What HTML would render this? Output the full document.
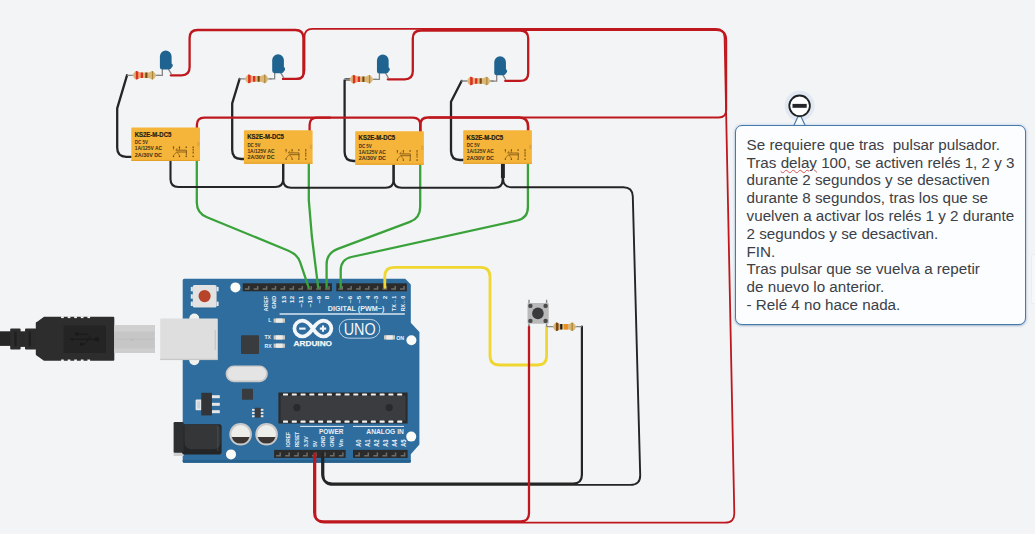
<!DOCTYPE html>
<html><head><meta charset="utf-8"><title>Circuit</title>
<style>
html,body{margin:0;padding:0;background:#f3f4f6;}
body{width:1035px;height:534px;overflow:hidden;position:relative;font-family:"Liberation Sans",sans-serif;}
svg{position:absolute;left:0;top:0;display:block}
svg text{font-family:"Liberation Sans",sans-serif;}
#note{position:absolute;left:735px;top:125px;width:289px;height:198.4px;background:#fcfdfe;border:1.7px solid #487aa9;border-radius:7px;box-shadow:0 0 3px rgba(120,170,220,.55),0 1px 2px rgba(60,90,130,.35);box-sizing:content-box}
#note p{margin:0;position:absolute;left:10.6px;top:9.7px;font-size:15.2px;line-height:17.82px;color:#3b4046;white-space:pre;letter-spacing:0}
#note u{text-decoration:underline wavy #d9534f;text-decoration-thickness:1px;text-underline-offset:1px}
</style></head><body>
<svg width="1035" height="534" viewBox="0 0 1035 534">
<rect width="1035" height="534" fill="#f3f4f6"/>

<g id="arduino">
<path d="M184.2,278.8 H405.2 L410.8,284.5 V322.8 L419.4,332 V444.4 L410.8,454.2 V461.2 Q410.8,462.7 409.3,462.7 H184.2 Q182.7,462.7 182.7,461.2 V280.3 Q182.7,278.8 184.2,278.8 Z" fill="#2e6d9e"/>
<path d="M182.7,460 H410.8 V461.2 Q410.8,462.7 409.3,462.7 H184.2 Q182.7,462.7 182.7,461.2 Z" fill="#26608d"/>
<circle cx="235.4" cy="287.4" r="5" fill="#fbfbf8"/>
<circle cx="411.4" cy="340.3" r="5" fill="#fbfbf8"/>
<circle cx="411.2" cy="436.6" r="5" fill="#fbfbf8"/>
<circle cx="231" cy="454.4" r="5" fill="#fbfbf8"/>
<rect x="242.7" y="283.3" width="89.20" height="8" fill="#2b2b2b"/>
<path d="M244.76,289.1 H248.76 V285.90000000000003" stroke="#6f6d68" stroke-width="1.5" fill="none"/>
<path d="M253.68,289.1 H257.68 V285.90000000000003" stroke="#6f6d68" stroke-width="1.5" fill="none"/>
<path d="M262.60,289.1 H266.60 V285.90000000000003" stroke="#6f6d68" stroke-width="1.5" fill="none"/>
<path d="M271.52,289.1 H275.52 V285.90000000000003" stroke="#6f6d68" stroke-width="1.5" fill="none"/>
<path d="M280.44,289.1 H284.44 V285.90000000000003" stroke="#6f6d68" stroke-width="1.5" fill="none"/>
<path d="M289.36,289.1 H293.36 V285.90000000000003" stroke="#6f6d68" stroke-width="1.5" fill="none"/>
<path d="M298.28,289.1 H302.28 V285.90000000000003" stroke="#6f6d68" stroke-width="1.5" fill="none"/>
<path d="M307.20,289.1 H311.20 V285.90000000000003" stroke="#6f6d68" stroke-width="1.5" fill="none"/>
<path d="M316.12,289.1 H320.12 V285.90000000000003" stroke="#6f6d68" stroke-width="1.5" fill="none"/>
<path d="M325.04,289.1 H329.04 V285.90000000000003" stroke="#6f6d68" stroke-width="1.5" fill="none"/>
<rect x="336.3" y="283.3" width="70.56" height="8" fill="#2b2b2b"/>
<path d="M338.31,289.1 H342.31 V285.90000000000003" stroke="#6f6d68" stroke-width="1.5" fill="none"/>
<path d="M347.13,289.1 H351.13 V285.90000000000003" stroke="#6f6d68" stroke-width="1.5" fill="none"/>
<path d="M355.95,289.1 H359.95 V285.90000000000003" stroke="#6f6d68" stroke-width="1.5" fill="none"/>
<path d="M364.77,289.1 H368.77 V285.90000000000003" stroke="#6f6d68" stroke-width="1.5" fill="none"/>
<path d="M373.59,289.1 H377.59 V285.90000000000003" stroke="#6f6d68" stroke-width="1.5" fill="none"/>
<path d="M382.41,289.1 H386.41 V285.90000000000003" stroke="#6f6d68" stroke-width="1.5" fill="none"/>
<path d="M391.23,289.1 H395.23 V285.90000000000003" stroke="#6f6d68" stroke-width="1.5" fill="none"/>
<path d="M400.05,289.1 H404.05 V285.90000000000003" stroke="#6f6d68" stroke-width="1.5" fill="none"/>
<rect x="274.1" y="449.9" width="71.60" height="8" fill="#2b2b2b"/>
<path d="M276.18,455.7 H280.18 V452.5" stroke="#6f6d68" stroke-width="1.5" fill="none"/>
<path d="M285.13,455.7 H289.13 V452.5" stroke="#6f6d68" stroke-width="1.5" fill="none"/>
<path d="M294.08,455.7 H298.08 V452.5" stroke="#6f6d68" stroke-width="1.5" fill="none"/>
<path d="M303.03,455.7 H307.03 V452.5" stroke="#6f6d68" stroke-width="1.5" fill="none"/>
<path d="M311.98,455.7 H315.98 V452.5" stroke="#6f6d68" stroke-width="1.5" fill="none"/>
<path d="M320.93,455.7 H324.93 V452.5" stroke="#6f6d68" stroke-width="1.5" fill="none"/>
<path d="M329.88,455.7 H333.88 V452.5" stroke="#6f6d68" stroke-width="1.5" fill="none"/>
<path d="M338.83,455.7 H342.83 V452.5" stroke="#6f6d68" stroke-width="1.5" fill="none"/>
<rect x="353.0" y="449.9" width="54.60" height="8" fill="#2b2b2b"/>
<path d="M355.15,455.7 H359.15 V452.5" stroke="#6f6d68" stroke-width="1.5" fill="none"/>
<path d="M364.25,455.7 H368.25 V452.5" stroke="#6f6d68" stroke-width="1.5" fill="none"/>
<path d="M373.35,455.7 H377.35 V452.5" stroke="#6f6d68" stroke-width="1.5" fill="none"/>
<path d="M382.45,455.7 H386.45 V452.5" stroke="#6f6d68" stroke-width="1.5" fill="none"/>
<path d="M391.55,455.7 H395.55 V452.5" stroke="#6f6d68" stroke-width="1.5" fill="none"/>
<path d="M400.65,455.7 H404.65 V452.5" stroke="#6f6d68" stroke-width="1.5" fill="none"/>
<rect x="190.8" y="286.9" width="2.2" height="4.4" fill="#e8e8e8"/><rect x="190.8" y="294.3" width="2.2" height="4.4" fill="#e8e8e8"/><rect x="190.8" y="301.6" width="2.2" height="4.4" fill="#e8e8e8"/>
<rect x="216.4" y="286.9" width="2.2" height="4.4" fill="#e8e8e8"/><rect x="216.4" y="301.6" width="2.2" height="4.4" fill="#e8e8e8"/>
<rect x="192.8" y="285.7" width="23.8" height="22.8" rx="1.6" fill="#1f5f8c" opacity=".6"/>
<rect x="192.8" y="285.1" width="23.8" height="22.4" rx="1.6" fill="#e2e2e2"/>
<circle cx="204.6" cy="296.1" r="6.1" fill="#b7432b"/>
<text transform="translate(267.90000000000003,295.8) rotate(-90)" font-size="5.9" font-weight="bold" text-anchor="end" fill="#eef3f8" textLength="15.6" lengthAdjust="spacingAndGlyphs">AREF</text>
<text transform="translate(276.40000000000003,295.8) rotate(-90)" font-size="5.9" font-weight="bold" text-anchor="end" fill="#eef3f8" textLength="13" lengthAdjust="spacingAndGlyphs">GND</text>
<text transform="translate(285.6,295.8) rotate(-90)" font-size="5.9" font-weight="bold" text-anchor="end" fill="#eef3f8" textLength="7.4" lengthAdjust="spacingAndGlyphs">13</text>
<text transform="translate(294.3,295.8) rotate(-90)" font-size="5.9" font-weight="bold" text-anchor="end" fill="#eef3f8" textLength="7.4" lengthAdjust="spacingAndGlyphs">12</text>
<text transform="translate(303.0,295.8) rotate(-90)" font-size="5.9" font-weight="bold" text-anchor="end" fill="#eef3f8" textLength="11.8" lengthAdjust="spacingAndGlyphs">~11</text>
<text transform="translate(311.90000000000003,295.8) rotate(-90)" font-size="5.9" font-weight="bold" text-anchor="end" fill="#eef3f8" textLength="11.8" lengthAdjust="spacingAndGlyphs">~10</text>
<text transform="translate(320.6,295.8) rotate(-90)" font-size="5.9" font-weight="bold" text-anchor="end" fill="#eef3f8" textLength="7.6" lengthAdjust="spacingAndGlyphs">~9</text>
<text transform="translate(329.40000000000003,295.8) rotate(-90)" font-size="5.9" font-weight="bold" text-anchor="end" fill="#eef3f8" textLength="3.5" lengthAdjust="spacingAndGlyphs">8</text>
<text transform="translate(343.0,295.8) rotate(-90)" font-size="5.9" font-weight="bold" text-anchor="end" fill="#eef3f8" textLength="3.5" lengthAdjust="spacingAndGlyphs">7</text>
<text transform="translate(351.8,295.8) rotate(-90)" font-size="5.9" font-weight="bold" text-anchor="end" fill="#eef3f8" textLength="7.6" lengthAdjust="spacingAndGlyphs">~6</text>
<text transform="translate(360.6,295.8) rotate(-90)" font-size="5.9" font-weight="bold" text-anchor="end" fill="#eef3f8" textLength="7.6" lengthAdjust="spacingAndGlyphs">~5</text>
<text transform="translate(369.5,295.8) rotate(-90)" font-size="5.9" font-weight="bold" text-anchor="end" fill="#eef3f8" textLength="3.5" lengthAdjust="spacingAndGlyphs">4</text>
<text transform="translate(378.3,295.8) rotate(-90)" font-size="5.9" font-weight="bold" text-anchor="end" fill="#eef3f8" textLength="7.6" lengthAdjust="spacingAndGlyphs">~3</text>
<text transform="translate(387.1,295.8) rotate(-90)" font-size="5.9" font-weight="bold" text-anchor="end" fill="#eef3f8" textLength="3.5" lengthAdjust="spacingAndGlyphs">2</text>
<text transform="translate(395.70000000000005,295.8) rotate(-90)" font-size="5.2" font-weight="bold" text-anchor="end" fill="#eef3f8" textLength="15.4" lengthAdjust="spacingAndGlyphs">TX→1</text>
<text transform="translate(404.5,295.8) rotate(-90)" font-size="5.2" font-weight="bold" text-anchor="end" fill="#eef3f8" textLength="15.4" lengthAdjust="spacingAndGlyphs">RX←0</text>
<text x="327.8" y="311.3" font-size="6.9" font-weight="bold" fill="#e9f0f6" textLength="56.6" lengthAdjust="spacingAndGlyphs">DIGITAL (PWM~)</text>
<path d="M279.6,313.9 H404.8" stroke="#d9e6f1" stroke-width="1.5"/>
<text x="268.3" y="322.40000000000003" font-size="5.2" font-weight="bold" fill="#e9f0f6">L</text>
<rect x="273.6" y="318.5" width="11.4" height="4.2" fill="#c9c9c4"/><rect x="276" y="318.5" width="6.6" height="4.2" fill="#ecece8"/>
<text x="264.4" y="339.2" font-size="5.2" font-weight="bold" fill="#e9f0f6">TX</text>
<rect x="273.6" y="335.29999999999995" width="11.4" height="4.2" fill="#c9c9c4"/><rect x="276" y="335.29999999999995" width="6.6" height="4.2" fill="#ecece8"/>
<text x="264.4" y="347.5" font-size="5.2" font-weight="bold" fill="#e9f0f6">RX</text>
<rect x="273.6" y="343.59999999999997" width="11.4" height="4.2" fill="#c9c9c4"/><rect x="276" y="343.59999999999997" width="6.6" height="4.2" fill="#ecece8"/>
<rect x="384" y="335.3" width="11" height="4.2" fill="#c9c9c4"/><rect x="386.3" y="335.3" width="6.4" height="4.2" fill="#ecece8"/>
<text x="396.2" y="339.5" font-size="5.6" font-weight="bold" fill="#eef3f8" textLength="8" lengthAdjust="spacingAndGlyphs">ON</text>
<g fill="none" stroke="#f4f7fa" stroke-width="3.7"><path d="M312.9,328.6 C309.5,323.5 306.5,320.7 302.3,320.7 A7.9,7.9 0 0 0 302.3,336.5 C306.5,336.5 309.5,333.7 312.9,328.6 C316.3,323.5 319.3,320.7 323.5,320.7 A7.9,7.9 0 0 1 323.5,336.5 C319.3,336.5 316.3,333.7 312.9,328.6 Z"/></g>
<path d="M299.2,328.6 H305.6" stroke="#f4f7fa" stroke-width="2.1"/><path d="M319.8,328.6 H326.2 M323,325.4 V331.8" stroke="#f4f7fa" stroke-width="2.1"/>
<text x="293.6" y="346.4" font-size="7.8" font-weight="bold" fill="#f4f7fa" stroke="#f4f7fa" stroke-width="0.25" textLength="38.4" lengthAdjust="spacingAndGlyphs">ARDUINO</text>
<rect x="339.2" y="319.4" width="40.6" height="18.8" rx="9.4" fill="none" stroke="#dfe9f2" stroke-width="0.8"/>
<text x="343.7" y="334.7" font-size="16" fill="#f4f7fa" textLength="32" lengthAdjust="spacingAndGlyphs">UNO</text>
<rect x="241" y="335.2" width="18" height="18.8" rx="0.8" fill="#3a3b3e"/>
<rect x="242" y="388.8" width="11" height="11" rx="0.6" fill="#3a3b3e"/>
<rect x="254.6" y="407.8" width="6.2" height="9.8" fill="#3a3b3e"/>
<rect x="252" y="408.9" width="2.6" height="1.9" fill="#e6e6e6"/><rect x="260.8" y="408.9" width="2.6" height="1.9" fill="#e6e6e6"/>
<rect x="252" y="412.1" width="2.6" height="1.9" fill="#e6e6e6"/><rect x="260.8" y="412.1" width="2.6" height="1.9" fill="#e6e6e6"/>
<rect x="252" y="415.3" width="2.6" height="1.9" fill="#e6e6e6"/><rect x="260.8" y="415.3" width="2.6" height="1.9" fill="#e6e6e6"/>
<rect x="225.6" y="365.6" width="42.2" height="16.6" rx="8.3" fill="#c8c8c8"/><rect x="227.3" y="366.8" width="38.8" height="13.6" rx="6.8" fill="#e4e4e4"/>
<rect x="195.6" y="399.6" width="6" height="10.6" rx="0.8" fill="#e6e6e6"/><rect x="197.2" y="401.4" width="3" height="7" fill="#c4d3e0"/>
<rect x="211.6" y="395.2" width="8.2" height="3" fill="#e6e6e6"/>
<rect x="211.6" y="402.8" width="8.2" height="3" fill="#e6e6e6"/>
<rect x="211.6" y="410.2" width="8.2" height="3" fill="#e6e6e6"/>
<rect x="201.3" y="392.8" width="10.6" height="22.6" fill="#333437"/>
<circle cx="240.6" cy="434.3" r="11.3" fill="#c9c9c9"/><circle cx="240.6" cy="434.3" r="9.3" fill="#ededea"/>
<path d="M231.70,437 A9.3,9.3 0 0 0 249.50,437 Z" fill="#3b3533"/>
<circle cx="266.6" cy="434.3" r="11.3" fill="#c9c9c9"/><circle cx="266.6" cy="434.3" r="9.3" fill="#ededea"/>
<path d="M257.70,437 A9.3,9.3 0 0 0 275.50,437 Z" fill="#3b3533"/>
<rect x="278.4" y="392.5" width="129.2" height="31" fill="#2b2b2d"/><rect x="280.6" y="395.6" width="125" height="25" fill="#3b3c3f"/>
<rect x="283.00" y="393.4" width="5" height="2.2" rx="0.6" fill="#f1f1f1"/><rect x="283.00" y="420.6" width="5" height="2.2" rx="0.6" fill="#f1f1f1"/>
<rect x="291.79" y="393.4" width="5" height="2.2" rx="0.6" fill="#f1f1f1"/><rect x="291.79" y="420.6" width="5" height="2.2" rx="0.6" fill="#f1f1f1"/>
<rect x="300.57" y="393.4" width="5" height="2.2" rx="0.6" fill="#f1f1f1"/><rect x="300.57" y="420.6" width="5" height="2.2" rx="0.6" fill="#f1f1f1"/>
<rect x="309.36" y="393.4" width="5" height="2.2" rx="0.6" fill="#f1f1f1"/><rect x="309.36" y="420.6" width="5" height="2.2" rx="0.6" fill="#f1f1f1"/>
<rect x="318.14" y="393.4" width="5" height="2.2" rx="0.6" fill="#f1f1f1"/><rect x="318.14" y="420.6" width="5" height="2.2" rx="0.6" fill="#f1f1f1"/>
<rect x="326.93" y="393.4" width="5" height="2.2" rx="0.6" fill="#f1f1f1"/><rect x="326.93" y="420.6" width="5" height="2.2" rx="0.6" fill="#f1f1f1"/>
<rect x="335.71" y="393.4" width="5" height="2.2" rx="0.6" fill="#f1f1f1"/><rect x="335.71" y="420.6" width="5" height="2.2" rx="0.6" fill="#f1f1f1"/>
<rect x="344.50" y="393.4" width="5" height="2.2" rx="0.6" fill="#f1f1f1"/><rect x="344.50" y="420.6" width="5" height="2.2" rx="0.6" fill="#f1f1f1"/>
<rect x="353.28" y="393.4" width="5" height="2.2" rx="0.6" fill="#f1f1f1"/><rect x="353.28" y="420.6" width="5" height="2.2" rx="0.6" fill="#f1f1f1"/>
<rect x="362.06" y="393.4" width="5" height="2.2" rx="0.6" fill="#f1f1f1"/><rect x="362.06" y="420.6" width="5" height="2.2" rx="0.6" fill="#f1f1f1"/>
<rect x="370.85" y="393.4" width="5" height="2.2" rx="0.6" fill="#f1f1f1"/><rect x="370.85" y="420.6" width="5" height="2.2" rx="0.6" fill="#f1f1f1"/>
<rect x="379.63" y="393.4" width="5" height="2.2" rx="0.6" fill="#f1f1f1"/><rect x="379.63" y="420.6" width="5" height="2.2" rx="0.6" fill="#f1f1f1"/>
<rect x="388.42" y="393.4" width="5" height="2.2" rx="0.6" fill="#f1f1f1"/><rect x="388.42" y="420.6" width="5" height="2.2" rx="0.6" fill="#f1f1f1"/>
<rect x="397.20" y="393.4" width="5" height="2.2" rx="0.6" fill="#f1f1f1"/><rect x="397.20" y="420.6" width="5" height="2.2" rx="0.6" fill="#f1f1f1"/>
<circle cx="296.9" cy="407.6" r="3.6" fill="#2a2a2c"/><circle cx="389.2" cy="407.6" r="3.6" fill="#2a2a2c"/>
<path d="M300.2,426.4 H343.8" stroke="#e9f0f6" stroke-width="1"/><path d="M353,426.4 H404" stroke="#e9f0f6" stroke-width="1"/>
<text x="318.9" y="433.9" font-size="7" font-weight="bold" fill="#e9f0f6" textLength="24.5" lengthAdjust="spacingAndGlyphs">POWER</text>
<text x="366.3" y="433.9" font-size="7" font-weight="bold" fill="#e9f0f6" textLength="37.6" lengthAdjust="spacingAndGlyphs">ANALOG IN</text>
<text transform="translate(290.3,447) rotate(-90)" font-size="5.5" font-weight="bold" text-anchor="start" fill="#eef3f8" textLength="15" lengthAdjust="spacingAndGlyphs">IOREF</text>
<text transform="translate(299.1,447) rotate(-90)" font-size="5.5" font-weight="bold" text-anchor="start" fill="#eef3f8" textLength="15" lengthAdjust="spacingAndGlyphs">RESET</text>
<text transform="translate(307.9,447) rotate(-90)" font-size="5.5" font-weight="bold" text-anchor="start" fill="#eef3f8" textLength="10.7" lengthAdjust="spacingAndGlyphs">3.3V</text>
<text transform="translate(316.6,447) rotate(-90)" font-size="5.5" font-weight="bold" text-anchor="start" fill="#eef3f8" textLength="6.3" lengthAdjust="spacingAndGlyphs">5V</text>
<text transform="translate(325.3,447) rotate(-90)" font-size="5.5" font-weight="bold" text-anchor="start" fill="#eef3f8" textLength="11.1" lengthAdjust="spacingAndGlyphs">GND</text>
<text transform="translate(334.2,447) rotate(-90)" font-size="5.5" font-weight="bold" text-anchor="start" fill="#eef3f8" textLength="11.1" lengthAdjust="spacingAndGlyphs">GND</text>
<text transform="translate(342.9,447) rotate(-90)" font-size="5.5" font-weight="bold" text-anchor="start" fill="#eef3f8" textLength="7.7" lengthAdjust="spacingAndGlyphs">Vin</text>
<text transform="translate(360.7,447) rotate(-90)" font-size="6.3" font-weight="bold" text-anchor="start" fill="#eef3f8" textLength="7.6" lengthAdjust="spacingAndGlyphs">A0</text>
<text transform="translate(369.7,447) rotate(-90)" font-size="6.3" font-weight="bold" text-anchor="start" fill="#eef3f8" textLength="7.6" lengthAdjust="spacingAndGlyphs">A1</text>
<text transform="translate(378.7,447) rotate(-90)" font-size="6.3" font-weight="bold" text-anchor="start" fill="#eef3f8" textLength="7.6" lengthAdjust="spacingAndGlyphs">A2</text>
<text transform="translate(387.7,447) rotate(-90)" font-size="6.3" font-weight="bold" text-anchor="start" fill="#eef3f8" textLength="7.6" lengthAdjust="spacingAndGlyphs">A3</text>
<text transform="translate(396.7,447) rotate(-90)" font-size="6.3" font-weight="bold" text-anchor="start" fill="#eef3f8" textLength="7.6" lengthAdjust="spacingAndGlyphs">A4</text>
<text transform="translate(405.7,447) rotate(-90)" font-size="6.3" font-weight="bold" text-anchor="start" fill="#eef3f8" textLength="7.6" lengthAdjust="spacingAndGlyphs">A5</text>
<circle cx="194.3" cy="318.6" r="5" fill="#f1f1ee"/><circle cx="194.3" cy="360.2" r="5" fill="#f1f1ee"/>
<rect x="160.2" y="318.4" width="57.6" height="41.6" rx="1" fill="#dedede"/><rect x="160.2" y="358.8" width="57.6" height="1.3" fill="#c8c8c8"/>
<path d="M215.2,330 V350" stroke="#bdbdbd" stroke-width="0.9"/>
<rect x="173.6" y="451.6" width="10" height="4.4" fill="#cfcfcf"/>
<rect x="182" y="424.2" width="39.6" height="30.4" rx="2.4" fill="#242527"/>
<rect x="173.6" y="422" width="10" height="30.8" rx="1.2" fill="#2e2f31"/>
<path d="M184.5,424.4 H215 Q220.6,424.4 220.6,430 V442 Q220.6,449.2 213,449.2 H192 Q184.5,449.2 184.5,442 Z" fill="#353638"/>
<path d="M217.8,426 V451" stroke="#5a5a5c" stroke-width="0.6"/>
</g>
<g id="usb">
<rect x="0" y="331.3" width="12" height="14.6" fill="#262626"/>
<rect x="10.2" y="328.5" width="10.4" height="20.9" rx="1" fill="#2c2c2c"/><rect x="20" y="331.3" width="6" height="15.6" fill="#2a2a2a"/><rect x="25" y="328.5" width="11.4" height="20.9" rx="1" fill="#2c2c2c"/>
<rect x="14.4" y="331.6" width="2.2" height="14.6" rx="1" fill="#1f1f1f"/><rect x="28.6" y="331.6" width="2.4" height="14.6" rx="1" fill="#1f1f1f"/>
<path d="M35.8,323 Q35.8,322.2 36.6,322 L37.6,321.6 L44,316.8 H113.2 Q114.3,316.8 114.3,317.9 V359.7 Q114.3,360.8 113.2,360.8 H44 L36.6,355.4 Q35.8,355 35.8,354.2 Z" fill="#2d2d2d"/>
<rect x="61.1" y="316.3" width="2.7" height="1.8" fill="#f3f4f6"/><rect x="61.1" y="359.5" width="2.7" height="1.8" fill="#f3f4f6"/>
<rect x="67.7" y="316.3" width="2.7" height="1.8" fill="#f3f4f6"/><rect x="67.7" y="359.5" width="2.7" height="1.8" fill="#f3f4f6"/>
<rect x="74.2" y="316.3" width="2.7" height="1.8" fill="#f3f4f6"/><rect x="74.2" y="359.5" width="2.7" height="1.8" fill="#f3f4f6"/>
<rect x="80.8" y="316.3" width="2.7" height="1.8" fill="#f3f4f6"/><rect x="80.8" y="359.5" width="2.7" height="1.8" fill="#f3f4f6"/>
<rect x="87.4" y="316.3" width="2.7" height="1.8" fill="#f3f4f6"/><rect x="87.4" y="359.5" width="2.7" height="1.8" fill="#f3f4f6"/>
<rect x="63.7" y="325.5" width="42.3" height="27.5" fill="#242424"/>
<g stroke="#191919" stroke-width="0.9" fill="#191919"><path d="M71.5,339.2 H96" fill="none"/><circle cx="97" cy="339.2" r="2.3" stroke="none"/><path d="M69.6,339.2 l3,-1.5 v3 z" stroke="none"/><path d="M91.6,339.2 l-4.6,-5 h-8" fill="none"/><path d="M88.6,339.2 l-4,4.9 h-2.4" fill="none"/><rect x="75.4" y="332.6" width="3" height="3" stroke="none"/><circle cx="81.4" cy="344.2" r="1.5" stroke="none"/></g>
<rect x="114.3" y="325" width="40.6" height="28" fill="#c6c6c6"/><rect x="114.3" y="325" width="40.6" height="6.4" fill="#d0d0d0"/><rect x="114.3" y="348.4" width="40.6" height="4.6" fill="#cecece"/><rect x="114.3" y="338.8" width="40.6" height="0.7" fill="#bcbcbc"/>
<path d="M129.6,338.6 l2,2 l2,-2" stroke="#b2b2b2" stroke-width="0.8" fill="none"/>
</g>
<g id="wires" fill="none" stroke-linejoin="round" stroke-linecap="round">
<path d="M196.8,160.5 V202.5 Q196.8,213.1 207,217.3 L288.5,250.7 Q297.5,254.4 300.2,262.4 L308.7,287.6" stroke="#3aa23a" stroke-width="2.3"/>
<path d="M308.8,163.5 V200 L311.8,236 L318.2,287.6" stroke="#3aa23a" stroke-width="2.3"/>
<path d="M420.2,164.5 V207 Q420.2,218.1 409.9,221.9 L337.8,248.8 Q326.6,253 326.6,264.6 V287.6" stroke="#3aa23a" stroke-width="2.3"/>
<path d="M527.9,163.5 V207 Q527.9,218.1 517.2,220.5 L351.4,257 Q340.7,259.4 340.7,270.4 V287.6" stroke="#3aa23a" stroke-width="2.3"/>
<path d="M127,75.3 L117.2,108.4 V147.8 Q117.2,156.8 126.2,156.8 H131.4" stroke="#252525" stroke-width="2.3"/>
<path d="M239.6,78.9 L232.2,103.4 V150 Q232.2,159 241.2,159 H244.4" stroke="#252525" stroke-width="2.3"/>
<path d="M350,79.3 H346 Q344.6,79.3 344.6,80.7 V152 Q344.6,161 353.6,161 H355.4" stroke="#252525" stroke-width="2.3"/>
<path d="M461.6,80.9 L451,101.8 V151 Q451,160 460,160 H463.6" stroke="#252525" stroke-width="2.3"/>
<path d="M170.5,160.5 V179 Q170.5,187 178.5,187 H275.2 Q283.2,187 283.2,179 V163.5" stroke="#252525" stroke-width="2.1"/>
<path d="M283.2,163.5 V179.8 Q283.2,187.8 291.2,187.8 H385.6 Q393.6,187.8 393.6,179.8 V164.5" stroke="#252525" stroke-width="2.1"/>
<path d="M393.6,164.5 V179.8 Q393.6,187.8 401.6,187.8 H494.6 Q502.6,187.8 502.6,179.8 V163.5" stroke="#252525" stroke-width="2.1"/>
<path d="M502.9,163.5 V178" stroke="#252525" stroke-width="3.9" stroke-linecap="butt"/>
<path d="M503.2,163.5 V179 Q503.2,187.2 511.4,187.2 H623.4 Q632.5,187.2 632.8,196.4 L640.2,474.8 Q640.5,484.9 630.4,484.9 H333.4 Q323.4,484.9 323.4,474.9 V453.6" stroke="#252525" stroke-width="1.9"/>
<path d="M581.9,326.7 V474.8 Q581.9,483.6 573.1,483.6 H332.2 Q322.2,483.6 322.2,473.6 V453.6" stroke="#252525" stroke-width="2.2"/>
<path d="M384.8,287.4 V276.3 Q384.8,267.3 393.8,267.3 H480.5 Q490,267.3 490,276.8 V355.5 Q490,365 499.5,365 H537.6 Q546.6,365 546.6,356 V327" stroke="#efd631" stroke-width="2.8"/>
<path d="M315.4,453.6 V513.7 Q315.4,522.7 324.4,522.7 H725 Q734.5,522.7 734.3,513 L724.6,37.6 Q724.5,28.9 715.8,28.9 H312.5 Q304.5,28.9 304.5,36.9 V70 Q304.5,78.9 295.6,78.9 H283" stroke="#be181e" stroke-width="1.8"/>
<path d="M422,29.9 H716.2 Q726.2,29.9 726.2,39.9 V110 Q726.2,117.5 718.7,117.5 H429" stroke="#be181e" stroke-width="2" stroke-linecap="butt"/>
<path d="M196.9,128 V125 Q196.9,117.6 204.3,117.6 H412.9 Q420.3,117.6 420.3,125 V131.5" stroke="#be181e" stroke-width="2.3"/>
<path d="M309.6,130.5 V125 Q309.6,117.6 317,117.6 H330" stroke="#be181e" stroke-width="2.3"/>
<path d="M420.3,131.5 V125 Q420.3,117.5 427.7,117.5 H519.2 Q528.1,117.5 528.1,126.4 V130.5" stroke="#be181e" stroke-width="2.5999999999999996"/>
<path d="M170.8,75.3 H181.6 Q189.6,75.3 189.6,67.3 V38 Q189.6,30 197.6,30 H295.4 Q303.4,30 303.4,38 V72.9 Q303.4,78.9 297.4,78.9 H283" stroke="#be181e" stroke-width="2.3"/>
<path d="M387.8,79.3 H404.8 Q412.8,79.3 412.8,71.3 V38.5 Q412.8,30.5 420.8,30.5 H520.2 Q528.2,30.5 528.2,38.5 V72.9 Q528.2,80.9 520.2,80.9 H505.3" stroke="#be181e" stroke-width="2.3"/>
<path d="M529,326.4 V513.2 Q529,521.4 520.8,521.4 H323.2 Q314.2,521.4 314.2,512.4 V453.6" stroke="#be181e" stroke-width="2.3"/>
</g>
<g transform="translate(131.3,127.5)">
<rect x="0" y="0" width="68.7" height="33.5" rx="0.8" fill="#f5b53a"/>
<rect x="0" y="32.4" width="68.7" height="1.1" fill="#e5a02a"/>
<rect x="65.9" y="14.5" width="2.3" height="4.2" fill="#dea63c"/>
<text x="3.4" y="9.25" font-size="6.4" font-weight="bold" fill="#241b12" stroke="#241b12" stroke-width="0.18" textLength="36.6" lengthAdjust="spacingAndGlyphs">KS2E-M-DC5</text>
<text x="3.5" y="16.45" font-size="4.6" font-weight="bold" fill="#3d2f18" textLength="13.1" lengthAdjust="spacingAndGlyphs">DC 5V</text>
<text x="3.5" y="22.95" font-size="4.6" font-weight="bold" fill="#3d2f18" textLength="27.2" lengthAdjust="spacingAndGlyphs">1A/125V AC</text>
<text x="3.5" y="29.25" font-size="4.6" font-weight="bold" fill="#3d2f18" textLength="27.2" lengthAdjust="spacingAndGlyphs">2A/30V DC</text>
<rect x="41.6" y="19" width="1.2" height="1.5" fill="#6e470f"/><rect x="41.6" y="28.1" width="1.2" height="1.5" fill="#6e470f"/>
<rect x="47.6" y="19" width="1.2" height="1.5" fill="#6e470f"/><rect x="47.6" y="28.1" width="1.2" height="1.5" fill="#6e470f"/>
<rect x="54.3" y="19" width="1.2" height="1.5" fill="#6e470f"/><rect x="54.3" y="28.1" width="1.2" height="1.5" fill="#6e470f"/>
<rect x="61.25" y="19" width="1.2" height="1.5" fill="#6e470f"/><rect x="61.25" y="28.1" width="1.2" height="1.5" fill="#6e470f"/>
<g stroke="#6e470f" stroke-width="0.75" fill="none">
<path d="M44.4,22.7 H55.1 V27.8 M45.2,24.5 H55.3"/>
<path d="M42.2,20.4 V22.2 M42.2,27.9 L45.3,24.5 M45.9,24.8 L48.2,27.9 M44.6,22.6 L46,20.6 M48.2,20.4 V22.4" stroke-width="0.6"/>
<path d="M61.85,21.3 V26.6" stroke-width="1.1" stroke-dasharray="1.1,0.5"/>
</g>
</g>
<g transform="translate(243.9,130.2)">
<rect x="0" y="0" width="68.7" height="33.5" rx="0.8" fill="#f5b53a"/>
<rect x="0" y="32.4" width="68.7" height="1.1" fill="#e5a02a"/>
<rect x="65.9" y="14.5" width="2.3" height="4.2" fill="#dea63c"/>
<text x="3.4" y="9.25" font-size="6.4" font-weight="bold" fill="#241b12" stroke="#241b12" stroke-width="0.18" textLength="36.6" lengthAdjust="spacingAndGlyphs">KS2E-M-DC5</text>
<text x="3.5" y="16.45" font-size="4.6" font-weight="bold" fill="#3d2f18" textLength="13.1" lengthAdjust="spacingAndGlyphs">DC 5V</text>
<text x="3.5" y="22.95" font-size="4.6" font-weight="bold" fill="#3d2f18" textLength="27.2" lengthAdjust="spacingAndGlyphs">1A/125V AC</text>
<text x="3.5" y="29.25" font-size="4.6" font-weight="bold" fill="#3d2f18" textLength="27.2" lengthAdjust="spacingAndGlyphs">2A/30V DC</text>
<rect x="41.6" y="19" width="1.2" height="1.5" fill="#6e470f"/><rect x="41.6" y="28.1" width="1.2" height="1.5" fill="#6e470f"/>
<rect x="47.6" y="19" width="1.2" height="1.5" fill="#6e470f"/><rect x="47.6" y="28.1" width="1.2" height="1.5" fill="#6e470f"/>
<rect x="54.3" y="19" width="1.2" height="1.5" fill="#6e470f"/><rect x="54.3" y="28.1" width="1.2" height="1.5" fill="#6e470f"/>
<rect x="61.25" y="19" width="1.2" height="1.5" fill="#6e470f"/><rect x="61.25" y="28.1" width="1.2" height="1.5" fill="#6e470f"/>
<g stroke="#6e470f" stroke-width="0.75" fill="none">
<path d="M44.4,22.7 H55.1 V27.8 M45.2,24.5 H55.3"/>
<path d="M42.2,20.4 V22.2 M42.2,27.9 L45.3,24.5 M45.9,24.8 L48.2,27.9 M44.6,22.6 L46,20.6 M48.2,20.4 V22.4" stroke-width="0.6"/>
<path d="M61.85,21.3 V26.6" stroke-width="1.1" stroke-dasharray="1.1,0.5"/>
</g>
</g>
<g transform="translate(355.2,131.2)">
<rect x="0" y="0" width="68.7" height="33.5" rx="0.8" fill="#f5b53a"/>
<rect x="0" y="32.4" width="68.7" height="1.1" fill="#e5a02a"/>
<rect x="65.9" y="14.5" width="2.3" height="4.2" fill="#dea63c"/>
<text x="3.4" y="9.25" font-size="6.4" font-weight="bold" fill="#241b12" stroke="#241b12" stroke-width="0.18" textLength="36.6" lengthAdjust="spacingAndGlyphs">KS2E-M-DC5</text>
<text x="3.5" y="16.45" font-size="4.6" font-weight="bold" fill="#3d2f18" textLength="13.1" lengthAdjust="spacingAndGlyphs">DC 5V</text>
<text x="3.5" y="22.95" font-size="4.6" font-weight="bold" fill="#3d2f18" textLength="27.2" lengthAdjust="spacingAndGlyphs">1A/125V AC</text>
<text x="3.5" y="29.25" font-size="4.6" font-weight="bold" fill="#3d2f18" textLength="27.2" lengthAdjust="spacingAndGlyphs">2A/30V DC</text>
<rect x="41.6" y="19" width="1.2" height="1.5" fill="#6e470f"/><rect x="41.6" y="28.1" width="1.2" height="1.5" fill="#6e470f"/>
<rect x="47.6" y="19" width="1.2" height="1.5" fill="#6e470f"/><rect x="47.6" y="28.1" width="1.2" height="1.5" fill="#6e470f"/>
<rect x="54.3" y="19" width="1.2" height="1.5" fill="#6e470f"/><rect x="54.3" y="28.1" width="1.2" height="1.5" fill="#6e470f"/>
<rect x="61.25" y="19" width="1.2" height="1.5" fill="#6e470f"/><rect x="61.25" y="28.1" width="1.2" height="1.5" fill="#6e470f"/>
<g stroke="#6e470f" stroke-width="0.75" fill="none">
<path d="M44.4,22.7 H55.1 V27.8 M45.2,24.5 H55.3"/>
<path d="M42.2,20.4 V22.2 M42.2,27.9 L45.3,24.5 M45.9,24.8 L48.2,27.9 M44.6,22.6 L46,20.6 M48.2,20.4 V22.4" stroke-width="0.6"/>
<path d="M61.85,21.3 V26.6" stroke-width="1.1" stroke-dasharray="1.1,0.5"/>
</g>
</g>
<g transform="translate(463.2,130.3)">
<rect x="0" y="0" width="68.7" height="33.5" rx="0.8" fill="#f5b53a"/>
<rect x="0" y="32.4" width="68.7" height="1.1" fill="#e5a02a"/>
<rect x="65.9" y="14.5" width="2.3" height="4.2" fill="#dea63c"/>
<text x="3.4" y="9.25" font-size="6.4" font-weight="bold" fill="#241b12" stroke="#241b12" stroke-width="0.18" textLength="36.6" lengthAdjust="spacingAndGlyphs">KS2E-M-DC5</text>
<text x="3.5" y="16.45" font-size="4.6" font-weight="bold" fill="#3d2f18" textLength="13.1" lengthAdjust="spacingAndGlyphs">DC 5V</text>
<text x="3.5" y="22.95" font-size="4.6" font-weight="bold" fill="#3d2f18" textLength="27.2" lengthAdjust="spacingAndGlyphs">1A/125V AC</text>
<text x="3.5" y="29.25" font-size="4.6" font-weight="bold" fill="#3d2f18" textLength="27.2" lengthAdjust="spacingAndGlyphs">2A/30V DC</text>
<rect x="41.6" y="19" width="1.2" height="1.5" fill="#6e470f"/><rect x="41.6" y="28.1" width="1.2" height="1.5" fill="#6e470f"/>
<rect x="47.6" y="19" width="1.2" height="1.5" fill="#6e470f"/><rect x="47.6" y="28.1" width="1.2" height="1.5" fill="#6e470f"/>
<rect x="54.3" y="19" width="1.2" height="1.5" fill="#6e470f"/><rect x="54.3" y="28.1" width="1.2" height="1.5" fill="#6e470f"/>
<rect x="61.25" y="19" width="1.2" height="1.5" fill="#6e470f"/><rect x="61.25" y="28.1" width="1.2" height="1.5" fill="#6e470f"/>
<g stroke="#6e470f" stroke-width="0.75" fill="none">
<path d="M44.4,22.7 H55.1 V27.8 M45.2,24.5 H55.3"/>
<path d="M42.2,20.4 V22.2 M42.2,27.9 L45.3,24.5 M45.9,24.8 L48.2,27.9 M44.6,22.6 L46,20.6 M48.2,20.4 V22.4" stroke-width="0.6"/>
<path d="M61.85,21.3 V26.6" stroke-width="1.1" stroke-dasharray="1.1,0.5"/>
</g>
</g>
<g transform="translate(132.4,75.3)">
<path d="M-5.5,0 H26.9" stroke="#858585" stroke-width="1.3"/>
<clipPath id="rc1324_753"><path d="M0,0 C1,-1.3 2.1,-4.3 3.9,-4.3 C5.7,-4.3 6.1,-2.8 7.9,-2.8 H15.999999999999998 C17.799999999999997,-2.8 18.2,-4.3 20.0,-4.3 C21.799999999999997,-4.3 22.9,-1.3 23.9,0 C22.9,1.3 21.799999999999997,4.3 20.0,4.3 C18.2,4.3 17.799999999999997,2.8 15.999999999999998,2.8 H7.9 C6.1,2.8 5.7,4.3 3.9,4.3 C2.1,4.3 1,1.3 0,0 Z"/></clipPath>
<path d="M0,0 C1,-1.3 2.1,-4.3 3.9,-4.3 C5.7,-4.3 6.1,-2.8 7.9,-2.8 H15.999999999999998 C17.799999999999997,-2.8 18.2,-4.3 20.0,-4.3 C21.799999999999997,-4.3 22.9,-1.3 23.9,0 C22.9,1.3 21.799999999999997,4.3 20.0,4.3 C18.2,4.3 17.799999999999997,2.8 15.999999999999998,2.8 H7.9 C6.1,2.8 5.7,4.3 3.9,4.3 C2.1,4.3 1,1.3 0,0 Z" fill="#dbb878"/>
<g clip-path="url(#rc1324_753)">
<rect x="3.4" y="-5" width="2.7" height="10" fill="#df2f1f"/>
<rect x="6.1" y="-5" width="2.2" height="10" fill="#f0a37e"/>
<rect x="8.3" y="-5" width="2.3" height="10" fill="#df2f1f"/>
<rect x="12.9" y="-5" width="2.1" height="10" fill="#7b4712"/>
<rect x="19.5" y="-5" width="1.2" height="10" fill="#a8863c"/>
</g></g>
<g transform="translate(165.75,50.6)">
<path d="M-3.4,18 V24.75 H-8.4" stroke="#858585" stroke-width="1.3" fill="none"/>
<path d="M2.6,18.4 L5.7,23.6" stroke="#858585" stroke-width="1.3" fill="none"/>
<path d="M-5.85,16.6 V5.85 A5.85,5.85 0 0 1 5.85,5.85 V12.9 Q7.05,13.5 7.05,15 Q7.05,16.2 6.1,16.7 Q5.3,18.95 2.9,18.95 H-3.4 Q-5.85,18.95 -5.85,16.6 Z" fill="#1f6490"/>
</g>
<g transform="translate(244.7,78.9)">
<path d="M-5.5,0 H26.9" stroke="#858585" stroke-width="1.3"/>
<clipPath id="rc2447_789"><path d="M0,0 C1,-1.3 2.1,-4.3 3.9,-4.3 C5.7,-4.3 6.1,-2.8 7.9,-2.8 H15.999999999999998 C17.799999999999997,-2.8 18.2,-4.3 20.0,-4.3 C21.799999999999997,-4.3 22.9,-1.3 23.9,0 C22.9,1.3 21.799999999999997,4.3 20.0,4.3 C18.2,4.3 17.799999999999997,2.8 15.999999999999998,2.8 H7.9 C6.1,2.8 5.7,4.3 3.9,4.3 C2.1,4.3 1,1.3 0,0 Z"/></clipPath>
<path d="M0,0 C1,-1.3 2.1,-4.3 3.9,-4.3 C5.7,-4.3 6.1,-2.8 7.9,-2.8 H15.999999999999998 C17.799999999999997,-2.8 18.2,-4.3 20.0,-4.3 C21.799999999999997,-4.3 22.9,-1.3 23.9,0 C22.9,1.3 21.799999999999997,4.3 20.0,4.3 C18.2,4.3 17.799999999999997,2.8 15.999999999999998,2.8 H7.9 C6.1,2.8 5.7,4.3 3.9,4.3 C2.1,4.3 1,1.3 0,0 Z" fill="#dbb878"/>
<g clip-path="url(#rc2447_789)">
<rect x="3.4" y="-5" width="2.7" height="10" fill="#df2f1f"/>
<rect x="6.1" y="-5" width="2.2" height="10" fill="#f0a37e"/>
<rect x="8.3" y="-5" width="2.3" height="10" fill="#df2f1f"/>
<rect x="12.9" y="-5" width="2.1" height="10" fill="#7b4712"/>
<rect x="19.5" y="-5" width="1.2" height="10" fill="#a8863c"/>
</g></g>
<g transform="translate(278.05,54.2)">
<path d="M-3.4,18 V24.75 H-8.4" stroke="#858585" stroke-width="1.3" fill="none"/>
<path d="M2.6,18.4 L5.7,23.6" stroke="#858585" stroke-width="1.3" fill="none"/>
<path d="M-5.85,16.6 V5.85 A5.85,5.85 0 0 1 5.85,5.85 V12.9 Q7.05,13.5 7.05,15 Q7.05,16.2 6.1,16.7 Q5.3,18.95 2.9,18.95 H-3.4 Q-5.85,18.95 -5.85,16.6 Z" fill="#1f6490"/>
</g>
<g transform="translate(349.45,79.3)">
<path d="M-5.5,0 H26.9" stroke="#858585" stroke-width="1.3"/>
<clipPath id="rc3494_793"><path d="M0,0 C1,-1.3 2.1,-4.3 3.9,-4.3 C5.7,-4.3 6.1,-2.8 7.9,-2.8 H15.999999999999998 C17.799999999999997,-2.8 18.2,-4.3 20.0,-4.3 C21.799999999999997,-4.3 22.9,-1.3 23.9,0 C22.9,1.3 21.799999999999997,4.3 20.0,4.3 C18.2,4.3 17.799999999999997,2.8 15.999999999999998,2.8 H7.9 C6.1,2.8 5.7,4.3 3.9,4.3 C2.1,4.3 1,1.3 0,0 Z"/></clipPath>
<path d="M0,0 C1,-1.3 2.1,-4.3 3.9,-4.3 C5.7,-4.3 6.1,-2.8 7.9,-2.8 H15.999999999999998 C17.799999999999997,-2.8 18.2,-4.3 20.0,-4.3 C21.799999999999997,-4.3 22.9,-1.3 23.9,0 C22.9,1.3 21.799999999999997,4.3 20.0,4.3 C18.2,4.3 17.799999999999997,2.8 15.999999999999998,2.8 H7.9 C6.1,2.8 5.7,4.3 3.9,4.3 C2.1,4.3 1,1.3 0,0 Z" fill="#dbb878"/>
<g clip-path="url(#rc3494_793)">
<rect x="3.4" y="-5" width="2.7" height="10" fill="#df2f1f"/>
<rect x="6.1" y="-5" width="2.2" height="10" fill="#f0a37e"/>
<rect x="8.3" y="-5" width="2.3" height="10" fill="#df2f1f"/>
<rect x="12.9" y="-5" width="2.1" height="10" fill="#7b4712"/>
<rect x="19.5" y="-5" width="1.2" height="10" fill="#a8863c"/>
</g></g>
<g transform="translate(382.8,54.6)">
<path d="M-3.4,18 V24.75 H-8.4" stroke="#858585" stroke-width="1.3" fill="none"/>
<path d="M2.6,18.4 L5.7,23.6" stroke="#858585" stroke-width="1.3" fill="none"/>
<path d="M-5.85,16.6 V5.85 A5.85,5.85 0 0 1 5.85,5.85 V12.9 Q7.05,13.5 7.05,15 Q7.05,16.2 6.1,16.7 Q5.3,18.95 2.9,18.95 H-3.4 Q-5.85,18.95 -5.85,16.6 Z" fill="#1f6490"/>
</g>
<g transform="translate(466.75,81.0)">
<path d="M-5.5,0 H26.9" stroke="#858585" stroke-width="1.3"/>
<clipPath id="rc4667_810"><path d="M0,0 C1,-1.3 2.1,-4.3 3.9,-4.3 C5.7,-4.3 6.1,-2.8 7.9,-2.8 H15.999999999999998 C17.799999999999997,-2.8 18.2,-4.3 20.0,-4.3 C21.799999999999997,-4.3 22.9,-1.3 23.9,0 C22.9,1.3 21.799999999999997,4.3 20.0,4.3 C18.2,4.3 17.799999999999997,2.8 15.999999999999998,2.8 H7.9 C6.1,2.8 5.7,4.3 3.9,4.3 C2.1,4.3 1,1.3 0,0 Z"/></clipPath>
<path d="M0,0 C1,-1.3 2.1,-4.3 3.9,-4.3 C5.7,-4.3 6.1,-2.8 7.9,-2.8 H15.999999999999998 C17.799999999999997,-2.8 18.2,-4.3 20.0,-4.3 C21.799999999999997,-4.3 22.9,-1.3 23.9,0 C22.9,1.3 21.799999999999997,4.3 20.0,4.3 C18.2,4.3 17.799999999999997,2.8 15.999999999999998,2.8 H7.9 C6.1,2.8 5.7,4.3 3.9,4.3 C2.1,4.3 1,1.3 0,0 Z" fill="#dbb878"/>
<g clip-path="url(#rc4667_810)">
<rect x="3.4" y="-5" width="2.7" height="10" fill="#df2f1f"/>
<rect x="6.1" y="-5" width="2.2" height="10" fill="#f0a37e"/>
<rect x="8.3" y="-5" width="2.3" height="10" fill="#df2f1f"/>
<rect x="12.9" y="-5" width="2.1" height="10" fill="#7b4712"/>
<rect x="19.5" y="-5" width="1.2" height="10" fill="#a8863c"/>
</g></g>
<g transform="translate(500.1,56.3)">
<path d="M-3.4,18 V24.75 H-8.4" stroke="#858585" stroke-width="1.3" fill="none"/>
<path d="M2.6,18.4 L5.7,23.6" stroke="#858585" stroke-width="1.3" fill="none"/>
<path d="M-5.85,16.6 V5.85 A5.85,5.85 0 0 1 5.85,5.85 V12.9 Q7.05,13.5 7.05,15 Q7.05,16.2 6.1,16.7 Q5.3,18.95 2.9,18.95 H-3.4 Q-5.85,18.95 -5.85,16.6 Z" fill="#1f6490"/>
</g>
<g id="button">
<path d="M529,299.8 V303.4 M546.6,299.8 V303.4 M529,323.4 V326.6 M546.6,323.4 V326.6" stroke="#8a8a8a" stroke-width="1.4"/>
<rect x="527.5" y="303.1" width="21.2" height="20.6" rx="1" fill="#b9b9b9"/>
<circle cx="530.4" cy="305.9" r="2.2" fill="#4a4a4a"/>
<circle cx="545.6" cy="305.9" r="2.2" fill="#4a4a4a"/>
<circle cx="530.4" cy="320.9" r="2.2" fill="#4a4a4a"/>
<circle cx="545.6" cy="320.9" r="2.2" fill="#4a4a4a"/>
<circle cx="537.9" cy="313.4" r="5.8" fill="#3a3a3c"/>
</g>
<g transform="translate(552.5,326.7)">
<path d="M-5.9,0 H29.299999999999997" stroke="#858585" stroke-width="1.3"/>
<clipPath id="rc5525_3267"><path d="M0,0 C1,-1.3 2.1,-4.3 3.9,-4.3 C5.7,-4.3 6.1,-2.8 7.9,-2.8 H15.999999999999998 C17.799999999999997,-2.8 18.2,-4.3 20.0,-4.3 C21.799999999999997,-4.3 22.9,-1.3 23.9,0 C22.9,1.3 21.799999999999997,4.3 20.0,4.3 C18.2,4.3 17.799999999999997,2.8 15.999999999999998,2.8 H7.9 C6.1,2.8 5.7,4.3 3.9,4.3 C2.1,4.3 1,1.3 0,0 Z"/></clipPath>
<path d="M0,0 C1,-1.3 2.1,-4.3 3.9,-4.3 C5.7,-4.3 6.1,-2.8 7.9,-2.8 H15.999999999999998 C17.799999999999997,-2.8 18.2,-4.3 20.0,-4.3 C21.799999999999997,-4.3 22.9,-1.3 23.9,0 C22.9,1.3 21.799999999999997,4.3 20.0,4.3 C18.2,4.3 17.799999999999997,2.8 15.999999999999998,2.8 H7.9 C6.1,2.8 5.7,4.3 3.9,4.3 C2.1,4.3 1,1.3 0,0 Z" fill="#dbb878"/>
<g clip-path="url(#rc5525_3267)">
<rect x="3.4" y="-5" width="2.6" height="10" fill="#7b4712"/>
<rect x="7.7" y="-5" width="2.1" height="10" fill="#1c1c1c"/>
<rect x="11.6" y="-5" width="3.8" height="10" fill="#ea8d22"/>
<rect x="19" y="-5" width="1.3" height="10" fill="#a8863c"/>
</g></g>
</svg>
<svg width="60" height="50" viewBox="0 0 60 50" style="left:769px;top:81px">
<circle cx="30.6" cy="24.8" r="15" fill="#e1e8f1"/>
<path d="M24.6,45 L29,35.6 H32 L36.4,45" fill="#fcfdfe" stroke="#487aa9" stroke-width="1.2"/>
<circle cx="30.6" cy="24.8" r="10.3" fill="#ffffff" stroke="#1f2022" stroke-width="1.8"/>
<rect x="23.5" y="22.9" width="14.2" height="3.9" fill="#242528"/>
</svg>
<div id="note"><p>Se requiere que tras  pulsar pulsador.
Tras <u>delay</u> 100, se activen relés 1, 2 y 3
durante 2 segundos y se desactiven
durante 8 segundos, tras los que se
vuelven a activar los relés 1 y 2 durante
2 segundos y se desactivan.
FIN.
Tras pulsar que se vuelva a repetir
de nuevo lo anterior.
- Relé 4 no hace nada.</p></div>
<div style="position:absolute;left:1031px;top:254px;width:8px;height:48px;background:#f6f7f9;border:1px solid #eceef1;border-radius:2px"></div>
</body></html>
